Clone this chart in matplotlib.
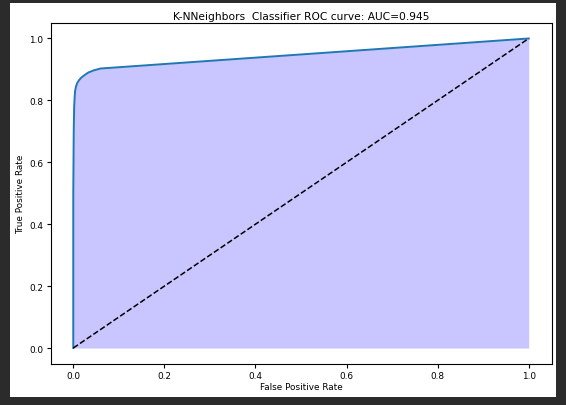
import numpy as np
import matplotlib
matplotlib.use('Agg')
import matplotlib.pyplot as plt
from matplotlib.patches import Rectangle

# ROC points
fpr = [0.0, 0.0, 0.001, 0.002, 0.003, 0.004, 0.006, 0.009, 0.013, 0.018,
       0.025, 0.033, 0.045, 0.06, 1.0]
tpr = [0.0, 0.5, 0.7, 0.78, 0.81, 0.83, 0.845, 0.857, 0.866, 0.874,
       0.882, 0.89, 0.897, 0.903, 1.0]
diag = [0.0, 1.0]
auc = 0.945
model_name = 'K-NNeighbors '

fig = plt.figure(figsize=(5.66, 4.06), dpi=100, facecolor='#2b2b2b')
# white figure area inside the dark notebook border
fig.add_artist(Rectangle((10 / 566, 8 / 406), 546 / 566, 394 / 406,
                         transform=fig.transFigure, facecolor='white',
                         edgecolor='none', zorder=-10))

ax = fig.add_axes([50.5 / 566, 41.5 / 406, 501 / 566, 340.5 / 406])
ax.set_zorder(1)
ax.plot(fpr, tpr, color='#1f77b4', linewidth=1.4)
ax.fill_between(fpr, tpr, color='#3a2fff', alpha=0.28, linewidth=0)
ax.plot(diag, diag, color='black', linestyle='--', linewidth=1.1)

ax.set_xlim(-0.05, 1.05)
ax.set_ylim(-0.05, 1.05)
ax.set_xticks(np.arange(0, 1.01, 0.2))
ax.set_yticks(np.arange(0, 1.01, 0.2))
ax.tick_params(labelsize=6.4, length=2.6, pad=2.5, width=0.8)
for s in ax.spines.values():
    s.set_linewidth(0.8)
ax.set_title(f'{model_name} Classifier ROC curve: AUC={auc}', fontsize=7.65, pad=3)
ax.set_xlabel('False Positive Rate', fontsize=6.4, labelpad=2)
ax.set_ylabel('True Positive Rate', fontsize=6.4, labelpad=3)

fig.savefig('out.png', dpi=100, facecolor=fig.get_facecolor())
